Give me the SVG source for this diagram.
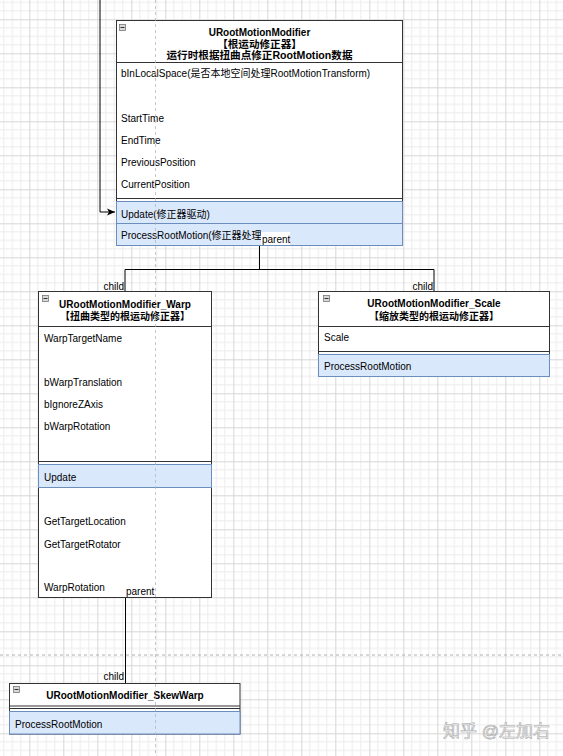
<svg xmlns="http://www.w3.org/2000/svg" width="563" height="756" viewBox="0 0 563 756">
<style>
text{font-family:"Liberation Sans","Noto Sans CJK SC",sans-serif;font-size:10px;fill:#000}
.t{font-weight:bold;text-anchor:middle}
.box{fill:#fff;stroke:#333;stroke-width:1}
.ln{stroke:#333;stroke-width:1;fill:none}
.m{fill:#dae8fc;stroke:#6c8ebf;stroke-width:1}
.ic{fill:#d9d9d9;stroke:#777;stroke-width:0.8}
.edge{stroke:#000;stroke-width:1;fill:none}
.lbl{font-size:10px}
.lb{fill:#fff}
.pg{stroke:#b0b0b0;stroke-width:1;stroke-dasharray:3 3;fill:none}
.wm{font-size:17px;fill:#f6f6f6;stroke:#a8a8a8;stroke-width:0.6}
</style>
<defs>
<pattern id="grid" width="34" height="34" patternUnits="userSpaceOnUse" x="29.3" y="19.3">
<path d="M8.5 0V34M17 0V34M25.5 0V34M0 8.5H34M0 17H34M0 25.5H34" stroke="#ececec" stroke-width="1" fill="none"/>
<path d="M0.5 0V34M0 0.5H34" stroke="#d6d6d6" stroke-width="1" fill="none"/>
</pattern>
<marker id="arr" markerWidth="10" markerHeight="10" refX="9" refY="5" orient="auto" markerUnits="userSpaceOnUse">
<path d="M1 1.5L9 5L1 8.5L3 5Z" fill="#000"/>
</marker>
</defs>
<rect width="563" height="756" fill="#fff"/>
<rect width="563" height="756" fill="url(#grid)"/>

<g id="connectors">
<path class="edge" d="M100 0V212H115" marker-end="url(#arr)"/>
<path class="edge" d="M259.5 246V269.5M125 269.5H434M125 269.5V291.5M434 269.5V291.5"/>
<path class="edge" d="M125.5 597.5V683.5"/>
</g>

<g id="URootMotionModifier">
<rect class="box" x="116.5" y="20.5" width="286" height="225"/>
<line class="ln" x1="116.5" y1="62.5" x2="402.5" y2="62.5"/>
<rect class="ic" x="119.5" y="24.5" width="6" height="6"/>
<line x1="120.5" y1="27.5" x2="124.5" y2="27.5" stroke="#333" stroke-width="1"/>
<text class="t" x="259.5" y="35.5">URootMotionModifier</text>
<text class="t" x="259.5" y="47.5" style="font-size:10.6px">【根运动修正器】</text>
<text class="t" x="259.5" y="59" style="font-size:10.6px">运行时根据扭曲点修正RootMotion数据</text>
<text x="121" y="77">bInLocalSpace(是否本地空间处理RootMotionTransform)</text>
<text x="121" y="122">StartTime</text>
<text x="121" y="144">EndTime</text>
<text x="121" y="166">PreviousPosition</text>
<text x="121" y="188">CurrentPosition</text>
<line class="ln" x1="116.5" y1="198.5" x2="402.5" y2="198.5"/>
<rect class="m" x="116.5" y="201.5" width="286" height="22"/>
<rect class="m" x="116.5" y="223.5" width="286" height="22"/>
<text x="121" y="217.5">Update(修正器驱动)</text>
<text x="121" y="239">ProcessRootMotion(修正器处理</text>
</g>

<g id="URootMotionModifier_Warp">
<rect class="box" x="38.5" y="291.5" width="173" height="306"/>
<line class="ln" x1="38.5" y1="326.5" x2="211.5" y2="326.5"/>
<rect class="ic" x="42.5" y="295.5" width="6" height="6"/>
<line x1="43.5" y1="298.5" x2="47.5" y2="298.5" stroke="#333" stroke-width="1"/>
<text class="t" x="125" y="307.5">URootMotionModifier_Warp</text>
<text class="t" x="125" y="320">【扭曲类型的根运动修正器】</text>
<text x="44" y="341.5">WarpTargetName</text>
<text x="44" y="385.5">bWarpTranslation</text>
<text x="44" y="407.5">bIgnoreZAxis</text>
<text x="44" y="429.5">bWarpRotation</text>
<line class="ln" x1="38.5" y1="461.5" x2="211.5" y2="461.5"/>
<rect class="m" x="38.5" y="464.5" width="173" height="23"/>
<text x="44" y="480.5">Update</text>
<text x="44" y="525">GetTargetLocation</text>
<text x="44" y="547.5">GetTargetRotator</text>
<text x="44" y="591">WarpRotation</text>
</g>

<g id="URootMotionModifier_Scale">
<rect class="box" x="318.5" y="291.5" width="231" height="85"/>
<line class="ln" x1="318.5" y1="326.5" x2="549.5" y2="326.5"/>
<rect class="ic" x="323.5" y="295.5" width="6" height="6"/>
<line x1="324.5" y1="298.5" x2="328.5" y2="298.5" stroke="#333" stroke-width="1"/>
<text class="t" x="434" y="307">URootMotionModifier_Scale</text>
<text class="t" x="434" y="320">【缩放类型的根运动修正器】</text>
<text x="324" y="341">Scale</text>
<line class="ln" x1="318.5" y1="351.5" x2="549.5" y2="351.5"/>
<rect class="m" x="318.5" y="354.5" width="231" height="22"/>
<text x="324" y="370">ProcessRootMotion</text>
</g>

<g id="URootMotionModifier_SkewWarp">
<rect class="box" x="9.5" y="683.5" width="230.5" height="50.5"/>
<line class="ln" x1="9.5" y1="706" x2="240" y2="706"/>
<line class="ln" x1="9.5" y1="708.5" x2="240" y2="708.5"/>
<rect class="ic" x="13.5" y="686.5" width="6" height="6"/>
<line x1="14.5" y1="689.5" x2="18.5" y2="689.5" stroke="#333" stroke-width="1"/>
<text class="t" x="125" y="698.5">URootMotionModifier_SkewWarp</text>
<rect class="m" x="9.5" y="711.5" width="230.5" height="22.5"/>
<text x="15" y="727.5">ProcessRootMotion</text>
</g>

<g id="labels">
<rect class="lb" x="261" y="232" width="29" height="13"/>
<text class="lbl" x="262" y="242.5">parent</text>
<text class="lbl" x="124" y="289.5" text-anchor="end">child</text>
<text class="lbl" x="433" y="289.5" text-anchor="end">child</text>
<text class="lbl" x="126" y="594.5">parent</text>
<text class="lbl" x="124" y="679.5" text-anchor="end">child</text>
</g>

<g id="pagebreaks">
<line class="pg" x1="155.5" y1="0" x2="155.5" y2="756" opacity="0.7"/>
<line class="pg" x1="0" y1="655" x2="563" y2="655"/>
</g>

<text class="wm" x="443" y="737">知乎 @左加右</text>
</svg>
